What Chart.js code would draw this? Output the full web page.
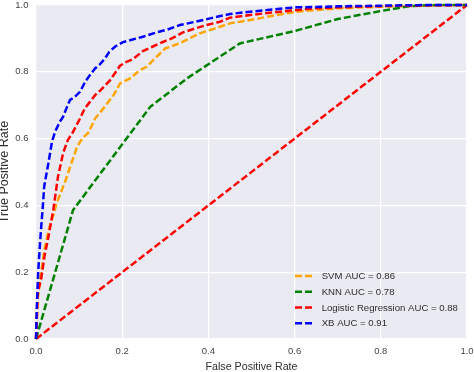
<!DOCTYPE html>
<html>
<head>
<meta charset="utf-8">
<script src="https://cdn.jsdelivr.net/npm/chart.js@4/dist/chart.umd.min.js"></script>
<style>
  html, body { margin: 0; padding: 0; background: #ffffff; }
  #c { display: block; }
</style>
</head>
<body>
<canvas id="c" width="474" height="372"></canvas>
<script>
// ---- Data ----
const tickValues = [0, 0.2, 0.4, 0.6, 0.8, 1.0];
const xTitle = "False Positive Rate";
const yTitle = "True Positive Rate";

const seriesLabels = ["SVM AUC = 0.86", "KNN AUC = 0.78", "Logistic Regression AUC = 0.88", "XB AUC = 0.91"];
const seriesColors = ["#FFA500", "#008000", "#FF0000", "#0000FF"];

const svmFpr = [0, 0.004, 0.012, 0.02, 0.03, 0.04, 0.048, 0.06, 0.07, 0.079, 0.09, 0.095, 0.107, 0.121, 0.13, 0.137, 0.15, 0.165, 0.18, 0.195, 0.218, 0.241, 0.257, 0.28, 0.3, 0.334, 0.38, 0.427, 0.45, 0.497, 0.55, 0.605, 0.7, 0.8, 0.9, 1];
const svmTpr = [0, 0.12, 0.2, 0.27, 0.33, 0.37, 0.407, 0.446, 0.48, 0.515, 0.555, 0.575, 0.6, 0.617, 0.64, 0.66, 0.68, 0.705, 0.73, 0.765, 0.78, 0.805, 0.815, 0.845, 0.87, 0.886, 0.915, 0.935, 0.945, 0.955, 0.968, 0.98, 0.99, 0.995, 0.998, 1];

const knnFpr = [0, 0.086, 0.265, 0.35, 0.473, 0.6, 0.7, 0.8, 0.868, 0.93, 1];
const knnTpr = [0, 0.386, 0.695, 0.78, 0.885, 0.922, 0.958, 0.982, 0.997, 1, 1];

const lrFpr = [0, 0.004, 0.012, 0.02, 0.028, 0.035, 0.04, 0.051, 0.063, 0.074, 0.086, 0.1, 0.113, 0.125, 0.137, 0.15, 0.172, 0.195, 0.21, 0.225, 0.248, 0.27, 0.288, 0.315, 0.341, 0.37, 0.396, 0.427, 0.45, 0.497, 0.55, 0.643, 0.75, 0.85, 1];
const lrTpr = [0, 0.14, 0.18, 0.25, 0.3, 0.35, 0.386, 0.486, 0.557, 0.596, 0.62, 0.655, 0.69, 0.71, 0.73, 0.745, 0.775, 0.818, 0.83, 0.838, 0.862, 0.875, 0.886, 0.9, 0.918, 0.93, 0.94, 0.95, 0.962, 0.97, 0.978, 0.99, 0.995, 0.998, 1];

const xbFpr = [0, 0.002, 0.005, 0.01, 0.016, 0.019, 0.025, 0.03, 0.037, 0.044, 0.055, 0.063, 0.072, 0.079, 0.09, 0.102, 0.114, 0.125, 0.137, 0.148, 0.16, 0.17, 0.183, 0.202, 0.22, 0.248, 0.28, 0.304, 0.334, 0.37, 0.404, 0.45, 0.497, 0.55, 0.605, 0.7, 0.8, 0.9, 1];
const xbTpr = [0, 0.1, 0.2, 0.3, 0.4, 0.456, 0.5, 0.536, 0.59, 0.62, 0.65, 0.666, 0.695, 0.716, 0.725, 0.74, 0.77, 0.79, 0.81, 0.822, 0.84, 0.86, 0.875, 0.889, 0.895, 0.905, 0.918, 0.926, 0.94, 0.95, 0.96, 0.973, 0.98, 0.987, 0.993, 0.996, 0.998, 1, 1];

const chanceFpr = [0, 1];
const chanceTpr = [0, 1];

// ---- Build datasets ----
function pts(xs, ys) { return xs.map((x, i) => ({ x: x, y: ys[i] })); }
const DASH = [7, 3];
const LW = 2.5;
function lineDs(label, xs, ys, color, order) {
  return {
    label: label, data: pts(xs, ys), borderColor: color, backgroundColor: color,
    borderWidth: LW, borderDash: DASH, showLine: true, pointRadius: 0, pointHoverRadius: 0,
    tension: 0, fill: false, order: order, clip: 4
  };
}
const datasets = [
  lineDs(seriesLabels[0], svmFpr, svmTpr, seriesColors[0], 4),
  lineDs(seriesLabels[1], knnFpr, knnTpr, seriesColors[1], 3),
  lineDs(seriesLabels[2], lrFpr, lrTpr, seriesColors[2], 2),
  lineDs(seriesLabels[3], xbFpr, xbTpr, seriesColors[3], 1),
  Object.assign(lineDs("", chanceFpr, chanceTpr, "#FF0000", 5), { isChance: true })
];

const FONT = "'Liberation Sans', Arial, sans-serif";
const TEXT = "#2e2e2e";

const bgPlugin = {
  id: 'plotBg',
  beforeDraw(chart) {
    const { ctx, chartArea: a } = chart;
    ctx.save();
    ctx.fillStyle = '#EAEAF2';
    ctx.fillRect(a.left, a.top, a.right - a.left, a.bottom - a.top);
    ctx.restore();
  }
};

const legendPlugin = {
  id: 'insideLegend',
  afterDraw(chart) {
    const { ctx, chartArea: a } = chart;
    const items = chart.data.datasets.filter(d => !d.isChance);
    const rowH = 15.8;
    const x0 = a.right - 172;
    ctx.save();
    ctx.font = "9.6px " + FONT;
    ctx.textBaseline = 'middle';
    ctx.textAlign = 'left';
    items.forEach((d, i) => {
      const y = a.bottom - 15.7 - (items.length - 1 - i) * rowH;
      ctx.strokeStyle = d.borderColor;
      ctx.lineWidth = LW;
      ctx.setLineDash(DASH);
      ctx.beginPath();
      ctx.moveTo(x0, y);
      ctx.lineTo(x0 + 18, y);
      ctx.stroke();
      ctx.setLineDash([]);
      ctx.fillStyle = TEXT;
      ctx.fillText(d.label, x0 + 26.7, y + 0.5);
    });
    ctx.restore();
  }
};

new Chart(document.getElementById('c'), {
  type: 'scatter',
  data: { datasets: datasets },
  plugins: [bgPlugin, legendPlugin],
  options: {
    responsive: false,
    devicePixelRatio: 1,
    animation: false,
    layout: { padding: { left: 0, top: 5, right: 7, bottom: 0 } },
    plugins: { legend: { display: false }, tooltip: { enabled: false } },
    scales: {
      x: {
        type: 'linear', min: 0, max: 1,
        afterBuildTicks(scale) { scale.ticks = tickValues.map(v => ({ value: v })); },
        afterFit(scale) { scale.height = 33; scale.paddingLeft = 0; scale.paddingRight = 0; },
        ticks: {
          autoSkip: false, maxRotation: 0, padding: 7, color: '#444444',
          font: { family: FONT, size: 9.5 },
          callback: v => Number(v).toFixed(1)
        },
        grid: { color: '#ffffff', lineWidth: 1.3, drawTicks: false },
        border: { display: false },
        title: { display: true, text: xTitle, color: TEXT, padding: { top: 0, bottom: 0 },
                 font: { family: FONT, size: 10.7, lineHeight: 1.0 } }
      },
      y: {
        type: 'linear', min: 0, max: 1,
        afterBuildTicks(scale) { scale.ticks = tickValues.map(v => ({ value: v })); },
        afterFit(scale) { scale.width = 36; scale.paddingTop = 0; scale.paddingBottom = 0; },
        ticks: {
          autoSkip: false, padding: 7.5, color: '#444444',
          font: { family: FONT, size: 9.5 },
          callback: v => Number(v).toFixed(1)
        },
        grid: { color: '#ffffff', lineWidth: 1.3, drawTicks: false },
        border: { display: false },
        title: { display: true, text: yTitle, color: TEXT, padding: { top: 0, bottom: 0 },
                 font: { family: FONT, size: 12.5, lineHeight: 0.8 } }
      }
    }
  }
});
</script>
</body>
</html>
